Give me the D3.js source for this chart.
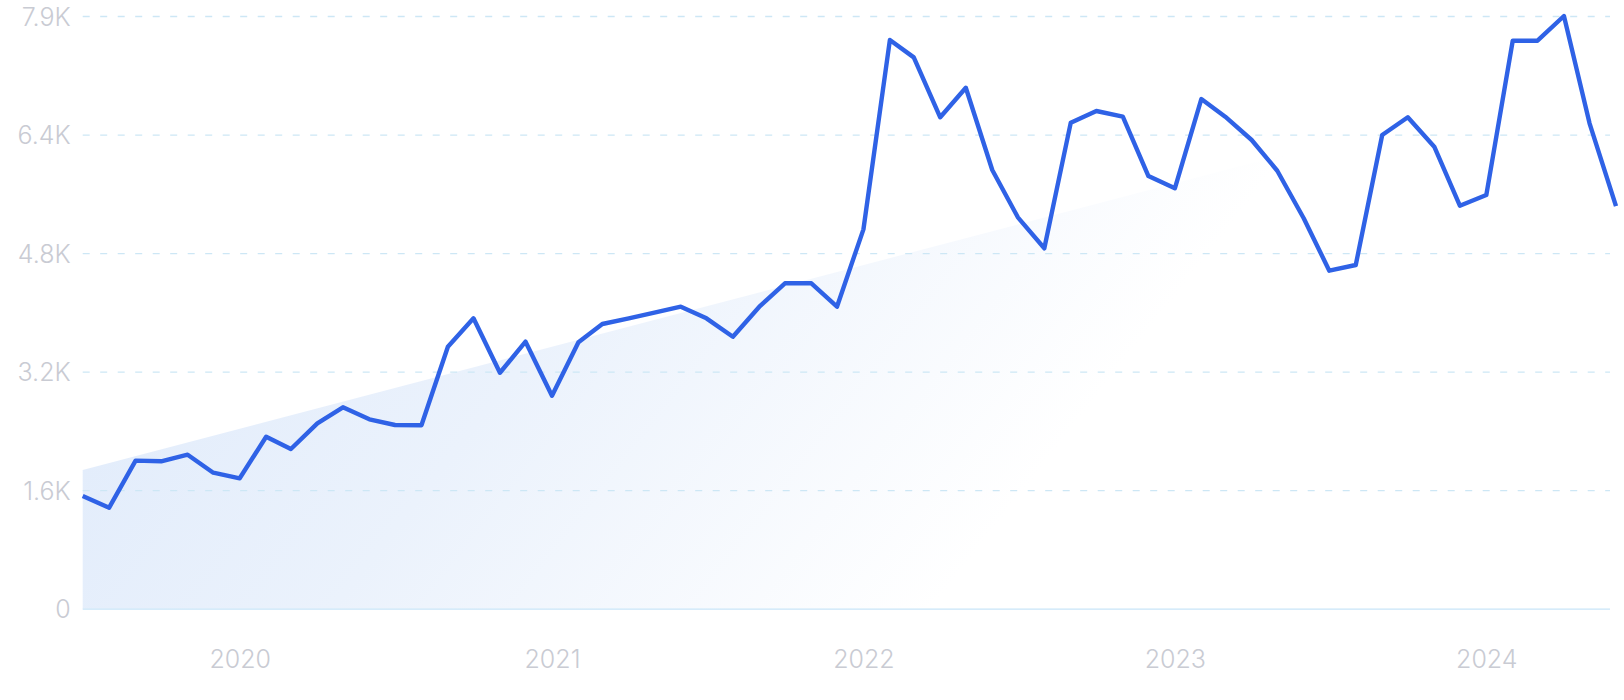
<!DOCTYPE html>
<html>
<head>
<meta charset="utf-8">
<script src="https://cdn.jsdelivr.net/npm/d3@7"></script>
<style>
  html, body { margin: 0; padding: 0; background: #fff; }
  svg { display: block; }
  .tick text { font-family: Inter, "Noto Sans", sans-serif; }
</style>
</head>
<body>
<svg id="chart" width="1624" height="700"></svg>
<script>
// monthly values, Jul 2019 .. Jun 2024
const startMonth = new Date(2019, 6, 1);
const values = [
  1510, 1353, 1983, 1975, 2063, 1822,
  1747, 2304, 2139, 2483, 2698, 2537, 2461, 2457, 3510, 3890, 3161, 3577,
  2853, 3569, 3814, 3890, 3965, 4046, 3890, 3644, 4046, 4359, 4359, 4046,
  5082, 7618, 7386, 6583, 6979, 5877, 5243, 4828, 6511, 6667, 6591, 5796,
  5632, 6828, 6591, 6279, 5867, 5230, 4528, 4604, 6346, 6583, 6189, 5399,
  5542, 7609, 7609, 7940, 6502, 5394
];
// trend line end values (first month, last month)
const trendValues = [1858, 7250];
const tickLabels = ["0", "1.6K", "3.2K", "4.8K", "6.4K", "7.9K"];
const yearLabels = ["2020", "2021", "2022", "2023", "2024"];

const width = 1624, height = 700;
const margin = { top: 16, right: 8, bottom: 91.3, left: 82.7 };

const dates = values.map((_, i) => d3.timeMonth.offset(startMonth, i));
const data = values.map((v, i) => ({ date: dates[i], value: v }));
const trend = [
  { date: dates[0], value: trendValues[0] },
  { date: dates[dates.length - 1], value: trendValues[1] },
];

const x = d3.scaleTime()
  .domain(d3.extent(dates))
  .range([margin.left, width - margin.right]);

const maxV = d3.max(values);
const y = d3.scaleLinear()
  .domain([0, maxV])
  .range([height - margin.bottom, margin.top]);

const svg = d3.select("#chart");
const defs = svg.append("defs");

const grad = defs.append("linearGradient")
  .attr("id", "trendFill")
  .attr("gradientUnits", "userSpaceOnUse")
  .attr("x1", 82).attr("y1", 300)
  .attr("x2", 760).attr("y2", 829);
grad.append("stop").attr("offset", 0).attr("stop-color", "#e0ebfb");
grad.append("stop").attr("offset", 0.45).attr("stop-color", "#ebf2fc");
grad.append("stop").attr("offset", 1).attr("stop-color", "#ffffff");

// trend area
svg.append("path")
  .datum(trend)
  .attr("fill", "url(#trendFill)")
  .attr("d", d3.area()
    .x((d) => x(d.date))
    .y0(y(0))
    .y1((d) => y(d.value)));

// y grid + labels
const yTicks = d3.range(tickLabels.length).map((i) => (maxV * i) / (tickLabels.length - 1));
const yAxis = svg.append("g")
  .attr("transform", `translate(${margin.left},0)`)
  .call(d3.axisLeft(y)
    .tickValues(yTicks)
    .tickSize(-(width - margin.left - 14))
    .tickPadding(12)
    .tickFormat((d, i) => tickLabels[i]));
yAxis.select(".domain").remove();
yAxis.selectAll(".tick line")
  .attr("stroke-width", 1.3)
  .attr("stroke-dasharray", (d) => (d === 0 ? null : "7 10.5"))
  .attr("stroke", (d) => (d === 0 ? "#c8e5f8" : "#cde7f5"));
yAxis.selectAll(".tick text")
  .attr("fill", "#c9cbd3")
  .attr("font-size", 25)
  .attr("font-weight", 300)
  .attr("dy", "0.36em");

// x axis labels
const yearTicks = yearLabels.map((s) => new Date(+s, 0, 1));
const xAxis = svg.append("g")
  .attr("transform", `translate(0,${height - margin.bottom})`)
  .call(d3.axisBottom(x)
    .tickValues(yearTicks)
    .tickSize(0)
    .tickPadding(47)
    .tickFormat((d, i) => yearLabels[i]));
xAxis.select(".domain").remove();
xAxis.selectAll(".tick text")
  .attr("fill", "#c9cbd3")
  .attr("font-size", 25)
  .attr("font-weight", 300)
  .attr("dy", "0.5em");

// main line
svg.append("path")
  .datum(data)
  .attr("fill", "none")
  .attr("stroke", "#2f62e6")
  .attr("stroke-width", 4.4)
  .attr("stroke-linejoin", "round")
  .attr("d", d3.line()
    .x((d) => x(d.date))
    .y((d) => y(d.value)));
</script>
</body>
</html>
